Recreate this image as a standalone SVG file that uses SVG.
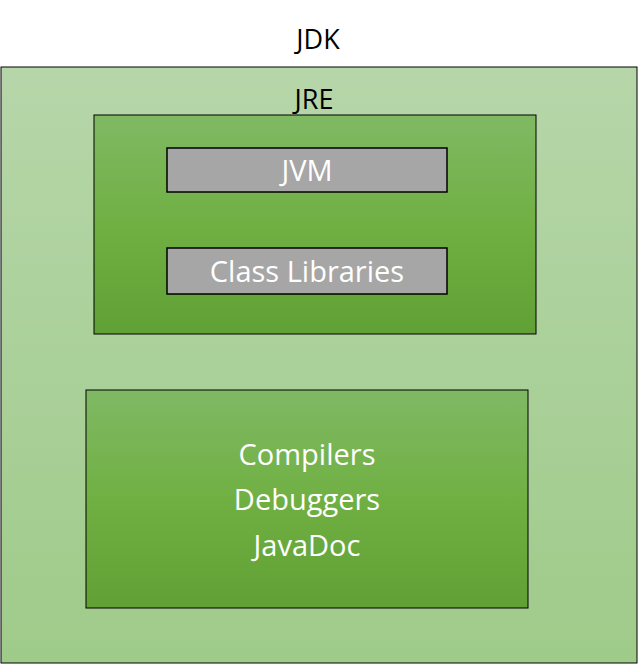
<svg xmlns="http://www.w3.org/2000/svg" width="638" height="665" viewBox="0 0 638 665">
<defs>
<linearGradient id="gOut" x1="0" y1="0" x2="0" y2="1"><stop offset="0" stop-color="#b6d6a9"/><stop offset="1" stop-color="#9fcb8a"/></linearGradient>
<linearGradient id="gIn" x1="0" y1="0" x2="0" y2="1"><stop offset="0" stop-color="#80b964"/><stop offset="0.5" stop-color="#70b043"/><stop offset="1" stop-color="#60a034"/></linearGradient>
<style>
.t{font-family:"Open Sans","Liberation Sans",sans-serif;text-anchor:middle}
.w{fill:#fff;font-size:29px}
.b{fill:#000;font-size:27px}
.box{stroke:#000;stroke-width:1}
.gray{fill:#a6a6a6;stroke:#000;stroke-width:1.5}
</style>
</defs>
<rect width="638" height="665" fill="#fff"/>
<g id="jdk">
<rect class="box" x="1" y="67" width="636" height="596" fill="url(#gOut)"/>
<text class="t b" x="318" y="49">JDK</text>
</g>
<g id="jre">
<text class="t b" x="314" y="109">JRE</text>
<rect class="box" x="94" y="115" width="442" height="219" fill="url(#gIn)"/>
</g>
<g id="jvm">
<rect class="gray" x="167" y="148" width="280" height="44"/>
<text class="t w" x="307" y="181">JVM</text>
</g>
<g id="classlib">
<rect class="gray" x="167" y="248" width="280" height="46"/>
<text class="t w" x="307" y="282">Class Libraries</text>
</g>
<g id="tools">
<rect class="box" x="86" y="390" width="442" height="218" fill="url(#gIn)"/>
<text class="t w" x="307" y="465">Compilers</text>
<text class="t w" x="307" y="510">Debuggers</text>
<text class="t w" x="307" y="556">JavaDoc</text>
</g>
<g id="connectors"/>
</svg>
